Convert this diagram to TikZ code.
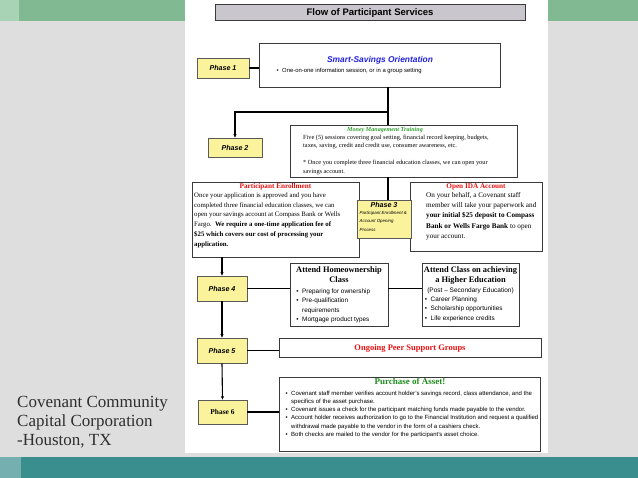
\documentclass[tikz,border=0pt]{standalone}
\usepackage{fontspec}
\setmainfont{Liberation Serif}
\setsansfont{Liberation Sans}
\usetikzlibrary{arrows.meta}
\definecolor{slidegray}{HTML}{DEDEDE}
\definecolor{topgreen}{HTML}{80B992}
\definecolor{topgreenlt}{HTML}{A9D3B5}
\definecolor{botteal}{HTML}{3B8E8E}
\definecolor{bottealtl}{HTML}{75AFAF}
\definecolor{phaseyellow}{HTML}{FAF39C}
\definecolor{phaseborder}{HTML}{5A5A5A}
\definecolor{titlegray}{HTML}{C9C7CD}
\definecolor{boxline}{HTML}{3A3A3A}
\definecolor{smartblue}{HTML}{2020E0}
\definecolor{mmgreen}{HTML}{2E9E2E}
\definecolor{redtitle}{HTML}{E81010}
\definecolor{purgreen}{HTML}{1E8C1E}
\definecolor{lefttext}{HTML}{2E2E2E}
\newcommand{\fsz}[2]{\fontsize{#1}{#2}\selectfont}
\newcommand{\blt}{\leavevmode\llap{\textbullet\hspace{3.5pt}}}
\newcommand{\mkbox}[7]{%
  \pgfmathsetmacro{\mkbw}{#5-#3}\pgfmathsetmacro{\mkbh}{#6-#4}%
  \pgfmathsetmacro{\mkbcx}{(#3+#5)/2}\pgfmathsetmacro{\mkbcy}{(#4+#6)/2}%
  \node[#1, minimum width=\mkbw pt, minimum height=\mkbh pt, inner sep=0pt] (#2) at (\mkbcx,\mkbcy) {#7};}
\begin{document}
\begin{tikzpicture}[x=1pt,y=-1pt,
  box/.style={draw=boxline, line width=0.7pt, fill=white},
  phasebox/.style={draw=phaseborder, line width=0.8pt, fill=phaseyellow},
  titlebox/.style={draw=boxline, line width=0.8pt, fill=titlegray},
  conn/.style={line width=1.1pt, black},
  arr/.style={conn, -{Stealth[length=3.5pt,width=3.2pt]}},
  txt/.style={inner sep=0pt},
  phasetxt/.style={font=\sffamily\bfseries\itshape\fsz{7.1}{8}},
  bodysans/.style={txt, font=\sffamily\fsz{6.4}{9.3}, align=left, anchor=north west},
]
\useasboundingbox (0,0) rectangle (638,478);
% background
\fill[slidegray] (0,0) rectangle (638,478);
\fill[topgreen] (0,0) rectangle (638,21);
\fill[topgreenlt] (0,0) rectangle (19,21);
\fill[botteal] (0,457) rectangle (638,478);
\fill[bottealtl] (0,457) rectangle (21,478);
\fill[white] (185,0) rectangle (548,453);

% title
\mkbox{titlebox}{title}{215}{4}{525}{20}{}
\node[txt, anchor=base, font=\sffamily\bfseries\fsz{9.5}{10}] (titleT) at (370,15.8) {Flow of Participant Services};

% boxes
\mkbox{box}{smart}{259}{43}{500}{87}{}
\mkbox{box}{mm}{290}{125}{517}{177}{}
\mkbox{box}{pe}{192}{182}{359}{257}{}
\mkbox{box}{ida}{410}{182}{542}{251}{}
\mkbox{box}{home}{290}{263}{388}{326}{}
\mkbox{box}{high}{422}{263}{519}{326}{}
\mkbox{box}{ong}{279}{338}{541}{357}{}
\mkbox{box}{pur}{279}{377}{540}{451}{}

% phases
\mkbox{phasebox,phasetxt}{p1}{197}{58}{249}{78}{Phase 1}
\mkbox{phasebox,phasetxt}{p2}{208}{138}{262}{157}{Phase 2}
\mkbox{phasebox}{p3}{357}{200}{411}{238}{}
\mkbox{phasebox,phasetxt}{p4}{197}{276}{247}{301}{Phase 4}
\mkbox{phasebox,phasetxt}{p5}{197}{338}{247}{363}{Phase 5}
\mkbox{phasebox,font=\rmfamily\bfseries\fsz{7.4}{8}}{p6}{198}{400}{247}{424}{Phase 6}

% texts: Smart-Savings
\node[txt, anchor=base, font=\sffamily\bfseries\itshape\fsz{8.4}{9}, text=smartblue] (smartT) at (380,63) {Smart-Savings Orientation};
\node[txt, anchor=base west, font=\sffamily\fsz{5.9}{7}] (smartB) at (282,72.5) {\blt One-on-one information session, or in a group setting};

% Money management
\node[txt, anchor=base, font=\bfseries\itshape\fsz{6.1}{7}, text=mmgreen] (mmT) at (385,132) {Money Management Training};
\node[txt, anchor=north west, align=left, font=\fsz{6.3}{8.5}] (mmB) at (303,134.6) {Five (5) sessions covering goal setting, financial record keeping, budgets,\\
taxes, saving, credit and credit use, consumer awareness, etc.\\[8.5pt]
* Once you complete three financial education classes, we can open your\\
savings account.};

% Participant Enrollment
\node[txt, anchor=base, font=\bfseries\fsz{7.2}{8}, text=redtitle] (peT) at (275.5,189) {Participant Enrollment};
\node[txt, anchor=north west, align=left, font=\fsz{6.8}{9.8}] (peB) at (194,192.3) {Once your application is approved and you have\\
completed three financial education classes, we can\\
open your savings account at Compass Bank or Wells\\
Fargo.\enspace\textbf{We require a one-time application fee of}\\
\textbf{\$25 which covers our cost of processing your}\\
\textbf{application.}};

% Phase 3 text
\node[txt, anchor=base, font=\sffamily\bfseries\itshape\fsz{7.1}{8}] (p3T) at (384,207.5) {Phase 3};
\node[txt, anchor=north west, align=left, font=\sffamily\itshape\fsz{4.4}{8.2}] (p3B) at (359.5,211.4) {Participant Enrollment \&\\
Account Opening\\
Process};

% Open IDA
\node[txt, anchor=base, font=\bfseries\fsz{7.2}{8}, text=redtitle] (idaT) at (476,189) {Open IDA Account};
\node[txt, anchor=north west, align=left, font=\fsz{7.2}{10.3}] (idaB) at (426,192) {On your behalf, a Covenant staff\\
member will take your paperwork and\\
\textbf{your initial \$25 deposit to Compass}\\
\textbf{Bank or Wells Fargo Bank} to open\\
your account.};

% Homeownership
\node[txt, anchor=north, align=center, font=\bfseries\fsz{8.4}{10.6}] (homeT) at (339,266.2) {Attend Homeownership\\Class};
\node[bodysans] (homeB) at (302,288.6) {\blt Preparing for ownership\\
\blt Pre-qualification\\
requirements\\
\blt Mortgage product types};

% Higher education
\node[txt, anchor=north, align=center, font=\bfseries\fsz{8.4}{10.6}] (highT) at (470.5,266.2) {Attend Class on achieving\\a Higher Education};
\node[txt, anchor=base, font=\sffamily\fsz{6.5}{7}] (highS) at (470.5,292.2) {(Post -- Secondary Education)};
\node[bodysans] (highB) at (430.5,296.6) {\blt Career Planning\\
\blt Scholarship opportunities\\
\blt Life experience credits};

% Ongoing
\node[txt, anchor=base, font=\bfseries\fsz{8.5}{9}, text=redtitle] (ongT) at (410,350.5) {Ongoing Peer Support Groups};

% Purchase
\node[txt, anchor=base, font=\bfseries\fsz{9}{10}, text=purgreen] (purT) at (410,385) {Purchase of Asset!};
\node[txt, anchor=north west, align=left, font=\sffamily\fsz{6.0}{8.2}] (purB) at (291,390.7) {\blt Covenant staff member verifies account holder's savings record, class attendance, and the\\
specifics of the asset purchase.\\
\blt Covenant issues a check for the participant matching funds made payable to the vendor.\\
\blt Account holder receives authorization to go to the Financial Institution and request a qualified\\
withdrawal made payable to the vendor in the form of a cashiers check.\\
\blt Both checks are mailed to the vendor for the participant's asset choice.};

% left caption
\node[txt, anchor=north west, align=left, font=\fsz{17}{18.7}, text=lefttext] (caption) at (17,396.5) {Covenant Community\\Capital Corporation\\-Houston, TX};

% connectors
\coordinate (j1) at (388,112);
\draw[conn] (p1.east) -- (smart.west |- p1.east);
\draw[conn] (smart.south -| j1) -- (mm.north -| j1);
\draw[arr] (j1) -| (p2.north);
\draw[conn] (mm.south -| j1) -- (p3.north -| j1);
\draw[arr] (pe.south -| p4.north) -- (p4.north);
\draw[conn] (p4.east) -- (home.west |- p4.east);
\draw[conn] (home.east |- p4.east) -- (high.west |- p4.east);
\draw[arr] (p4.south) -- (p5.north);
\draw[conn] (p5.east) -- (ong.west |- p5.east);
\draw[arr] (p5.south) -- (p6.north);
\draw[conn] (p6.east) -- (pur.west |- p6.east);
\end{tikzpicture}
\end{document}
